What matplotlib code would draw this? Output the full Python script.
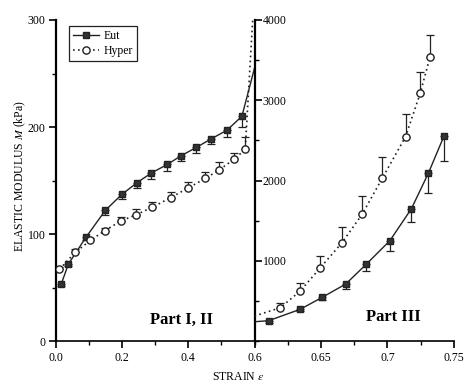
import matplotlib.pyplot as plt
from matplotlib.ticker import MultipleLocator

plt.rcParams['font.family'] = ['Liberation Serif', 'DejaVu Serif']
plt.rcParams['mathtext.fontset'] = 'stix'

# Part I, II (left scale, kPa)
eut_x1 = [0.017, 0.039, 0.092, 0.15, 0.2, 0.246, 0.289, 0.337, 0.378, 0.425, 0.47, 0.517, 0.562]
eut_y1 = [53, 72, 97, 122, 137, 148, 157, 165, 173, 181, 189, 197, 210]
eut_e1 = [2, 2, 3, 4, 4, 5, 6, 6, 5, 5, 5, 6, 10]
eut_end1 = (0.6, 255)

hyp_x1 = [0.012, 0.06, 0.105, 0.148, 0.196, 0.243, 0.292, 0.347, 0.4, 0.452, 0.494, 0.539, 0.572]
hyp_y1 = [67, 83, 94, 103, 112, 118, 125, 134, 143, 152, 160, 170, 179]
hyp_e1 = [2, 3, 2, 3, 4, 5, 5, 5, 6, 6, 7, 6, 12]
hyp_end1 = (0.6, 330)

# Part III (right scale, kPa)
eut_x3 = [0.6106, 0.6344, 0.651, 0.6686, 0.684, 0.7018, 0.718, 0.7307, 0.7425]
eut_y3 = [253, 395, 545, 710, 956, 1250, 1649, 2090, 2555]
eut_e3 = [25, 25, 30, 60, 85, 130, 165, 240, 310]
eut_start3 = (0.6, 240)

hyp_x3 = [0.6194, 0.6344, 0.6495, 0.6658, 0.6809, 0.696, 0.7136, 0.7246, 0.7319]
hyp_y3 = [415, 623, 913, 1225, 1578, 2026, 2546, 3087, 3535]
hyp_e3 = [60, 100, 145, 190, 230, 270, 280, 270, 280]
hyp_start3 = (0.6, 311)

W, H = 474, 387
fig = plt.figure(figsize=(W / 100, H / 100), dpi=100)
x0, xm, x1 = 55.5, 254.5, 454
ytop, ybot = 20, 341
ax1 = fig.add_axes([x0 / W, 1 - ybot / H, (xm - x0) / W, (ybot - ytop) / H])
ax2 = fig.add_axes([xm / W, 1 - ybot / H, (x1 - xm) / W, (ybot - ytop) / H])
ax1.patch.set_alpha(0)
ax2.patch.set_alpha(0)

sq = dict(marker='s', ms=4.6, mfc='#333333', mec='#222222', color='#222222', lw=1.0)
ci = dict(marker='o', ms=5.2, mfc='white', mec='#222222', mew=1.0, color='#222222', lw=1.2,
          ls=(0, (1, 2)))
eb = dict(fmt='none', ecolor='#222222', elinewidth=0.9, capsize=3, capthick=0.9)

# left panel
ax1.errorbar(eut_x1, eut_y1, yerr=[eut_e1, [0] * len(eut_e1)], **eb)
ax1.errorbar(hyp_x1, hyp_y1, yerr=[[0] * len(hyp_e1), hyp_e1], **eb)
ax1.plot(eut_x1 + [eut_end1[0]], eut_y1 + [eut_end1[1]], markevery=list(range(len(eut_x1))),
         label='Eut', zorder=3, **sq)
ax1.plot(hyp_x1 + [hyp_end1[0]], hyp_y1 + [hyp_end1[1]], markevery=list(range(len(hyp_x1))),
         label='Hyper', zorder=3, **ci)

# right panel
ax2.errorbar(eut_x3, eut_y3, yerr=[eut_e3, [0] * len(eut_e3)], **eb)
ax2.errorbar(hyp_x3, hyp_y3, yerr=[[0] * len(hyp_e3), hyp_e3], **eb)
ax2.plot([eut_start3[0]] + eut_x3, [eut_start3[1]] + eut_y3,
         markevery=list(range(1, len(eut_x3) + 1)), zorder=3, **sq)
ax2.plot([hyp_start3[0]] + hyp_x3, [hyp_start3[1]] + hyp_y3,
         markevery=list(range(1, len(hyp_x3) + 1)), zorder=3, **ci)

ax1.set_xlim(0, 0.6)
ax1.set_ylim(0, 300)
ax2.set_xlim(0.6, 0.75)
ax2.set_ylim(0, 4000)

for ax in (ax1, ax2):
    ax.spines['top'].set_visible(False)
    ax.spines['right'].set_visible(False)
    ax.spines['left'].set_linewidth(1.6)
    ax.spines['bottom'].set_linewidth(1.2)
    ax.tick_params(axis='x', which='major', direction='out', length=5, width=1.2,
                   labelsize=8.5, pad=3)
    ax.tick_params(axis='x', which='minor', direction='out', length=3, width=1.0)

ax1.set_xticks([0, 0.2, 0.4])
ax1.set_xticklabels(['0.0', '0.2', '0.4'])
ax1.xaxis.set_minor_locator(MultipleLocator(0.1))
ax1.set_yticks([0, 100, 200, 300])
ax1.yaxis.set_minor_locator(MultipleLocator(50))
ax1.tick_params(axis='y', which='major', direction='out', length=5, width=1.2,
                labelsize=8.5, pad=2)
ax1.tick_params(axis='y', which='minor', direction='out', length=3, width=1.0)

ax2.set_xticks([0.6, 0.65, 0.7, 0.75])
ax2.set_xticklabels(['0.6', '0.65', '0.7', '0.75'])
ax2.xaxis.set_minor_locator(MultipleLocator(0.025))
ax2.set_yticks([1000, 2000, 3000, 4000])
ax2.yaxis.set_minor_locator(MultipleLocator(500))
ax2.tick_params(axis='y', which='major', direction='in', length=5, width=1.2,
                labelsize=8.5, pad=-6)
ax2.tick_params(axis='y', which='minor', direction='in', length=3, width=1.0)
for lbl in ax2.get_yticklabels():
    lbl.set_horizontalalignment('left')

leg = ax1.legend(loc='upper left', bbox_to_anchor=(0.055, 0.99), fontsize=8.5,
                 frameon=True, fancybox=False, edgecolor='#222222', framealpha=1,
                 handlelength=2.2, handletextpad=0.4, borderpad=0.35, labelspacing=0.25,
                 borderaxespad=0.2)
leg.get_frame().set_linewidth(0.9)

ax1.text(0.38, 20, 'Part I, II', fontsize=12, fontweight='bold', ha='center', va='center')
ax2.text(0.7045, 300, 'Part III', fontsize=12, fontweight='bold', ha='center', va='center')

fig.text(20 / W, 1 - 176 / H, 'ELASTIC MODULUS $\\mathit{M}$ (kPa)', rotation=90,
         ha='center', va='center', fontsize=8.5)
fig.text(238 / W, 1 - 377 / H, 'STRAIN $\\varepsilon$', ha='center', va='center', fontsize=8.5)

fig.savefig('out.png', dpi=100)
